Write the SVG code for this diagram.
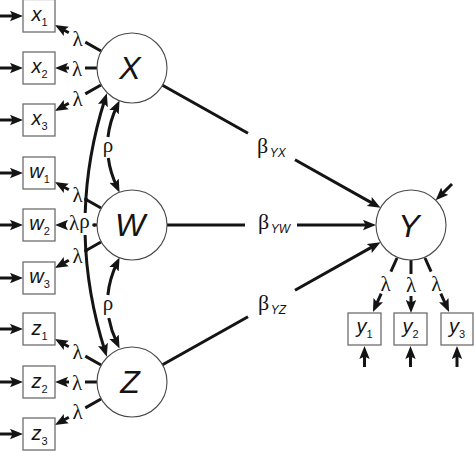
<svg xmlns="http://www.w3.org/2000/svg" width="474" height="451" viewBox="0 0 474 451">
<style>
.bg{fill:#ffffff}
.circ{fill:#ffffff;stroke:#4a4a4a;stroke-width:1.1}
.box{fill:#ffffff;stroke:#6e6e6e;stroke-width:1.3}
.ln{fill:none;stroke:#141414;stroke-width:3}
.arw{marker-end:url(#ah)}
.bi{marker-start:url(#ah);}
.dot{fill:#141414}
.lat{font-family:"Liberation Sans",Arial,sans-serif;font-style:italic;font-size:32px;fill:#141414;text-anchor:middle}
.obs{font-family:"Liberation Sans",Arial,sans-serif;font-style:italic;font-size:20px;fill:#141414;text-anchor:middle}
.sub{font-style:normal;font-size:11px}
.gk{font-family:"Liberation Serif","Times New Roman",serif;font-size:21px;fill:#141414;text-anchor:middle}
.beta{font-family:"Liberation Serif","Times New Roman",serif;font-size:22px;fill:#141414}
.bsub{font-family:"Liberation Sans",Arial,sans-serif;font-style:italic;font-size:12px}
</style>
<defs>
<marker id="ah" viewBox="0 0 13 11" markerWidth="13" markerHeight="11" refX="7" refY="5.5" orient="auto-start-reverse" markerUnits="userSpaceOnUse">
<path d="M0,0.3 L13,5.5 L0,10.7 L2.6,5.5 z" fill="#141414"/>
</marker>
</defs>
<rect class="bg" x="0" y="0" width="474" height="451"/>

<g id="connectors">
  <!-- error inputs to left indicators -->
  <line class="ln arw" x1="0" y1="16" x2="17" y2="16"/>
  <line class="ln arw" x1="0" y1="68" x2="17" y2="68"/>
  <line class="ln arw" x1="0" y1="120" x2="17" y2="120"/>
  <line class="ln arw" x1="0" y1="173" x2="17" y2="173"/>
  <line class="ln arw" x1="0" y1="225" x2="17" y2="225"/>
  <line class="ln arw" x1="0" y1="278" x2="17" y2="278"/>
  <line class="ln arw" x1="0" y1="329" x2="17" y2="329"/>
  <line class="ln arw" x1="0" y1="382" x2="17" y2="382"/>
  <line class="ln arw" x1="0" y1="434" x2="17" y2="434"/>

  <!-- X loadings -->
  <line class="ln" x1="101" y1="51" x2="85.3" y2="42.1"/>
  <line class="ln arw" x1="68.8" y1="32.8" x2="60.2" y2="28"/>
  <line class="ln" x1="97" y1="68" x2="85" y2="68"/>
  <line class="ln arw" x1="69" y1="68" x2="61" y2="68"/>
  <line class="ln" x1="101" y1="85" x2="85.3" y2="93.9"/>
  <line class="ln arw" x1="68.8" y1="103.2" x2="60.2" y2="108"/>

  <!-- W loadings -->
  <line class="ln" x1="101" y1="208" x2="86" y2="199.5"/>
  <circle class="dot" cx="86" cy="199.5" r="2"/>
  <line class="ln arw" x1="68.8" y1="189.8" x2="60.2" y2="185"/>
  <line class="ln" x1="97" y1="225" x2="94" y2="225"/>
  <circle class="dot" cx="94" cy="225" r="1.8"/>
  <line class="ln arw" x1="66" y1="225" x2="61" y2="225"/>
  <line class="ln" x1="101" y1="242" x2="86" y2="250.5"/>
  <circle class="dot" cx="86" cy="250.5" r="2"/>
  <line class="ln arw" x1="68.8" y1="260.2" x2="60.2" y2="265"/>

  <!-- Z loadings -->
  <line class="ln" x1="101" y1="365" x2="85.3" y2="356.1"/>
  <line class="ln arw" x1="68.8" y1="346.8" x2="60.2" y2="342"/>
  <line class="ln" x1="97" y1="382" x2="85" y2="382"/>
  <line class="ln arw" x1="69" y1="382" x2="61" y2="382"/>
  <line class="ln" x1="101" y1="399" x2="85.3" y2="407.9"/>
  <line class="ln arw" x1="68.8" y1="417.2" x2="60.2" y2="422"/>

  <!-- correlations -->
  <path class="ln bi" d="M117,106 Q109.7,121.5 108,137"/>
  <path class="ln arw" d="M108.3,158 Q110.2,172.5 117,187"/>
  <path class="ln bi" d="M117,263 Q109.4,279 107.9,295"/>
  <path class="ln arw" d="M108.8,318 Q111.1,330.5 117,343"/>
  <path class="ln bi" d="M105,99 Q86.9,156 85.2,213"/>
  <path class="ln arw" d="M85.1,235 Q86.6,293 105,351"/>

  <!-- structural paths -->
  <line class="ln" x1="162.5" y1="85.2" x2="248" y2="133.3"/>
  <line class="ln arw" x1="295" y1="159.8" x2="375.3" y2="204.9"/>
  <line class="ln" x1="167" y1="225" x2="245" y2="225"/>
  <line class="ln arw" x1="297" y1="225" x2="370" y2="225"/>
  <line class="ln" x1="162.5" y1="364.8" x2="248" y2="316.7"/>
  <line class="ln arw" x1="295" y1="290.2" x2="375.3" y2="245.1"/>

  <!-- Y disturbance -->
  <line class="ln arw" x1="452" y1="184" x2="439.9" y2="196.1"/>

  <!-- Y loadings -->
  <line class="ln" x1="397" y1="258" x2="390.9" y2="271.7"/>
  <line class="ln arw" x1="381.2" y1="293.6" x2="375.4" y2="306.5"/>
  <line class="ln" x1="411" y1="260" x2="411" y2="274"/>
  <line class="ln arw" x1="411" y1="296" x2="411" y2="307"/>
  <line class="ln" x1="425" y1="258" x2="431.1" y2="271.7"/>
  <line class="ln arw" x1="440.8" y1="293.6" x2="446.6" y2="306.5"/>

  <!-- error inputs to y indicators -->
  <line class="ln arw" x1="364.5" y1="367" x2="364.5" y2="352"/>
  <line class="ln arw" x1="410.5" y1="367" x2="410.5" y2="352"/>
  <line class="ln arw" x1="457" y1="367" x2="457" y2="352"/>

  <g id="edge-labels">
    <text class="gk" x="77.5" y="45.5">λ</text>
    <text class="gk" x="77" y="75.5">λ</text>
    <text class="gk" x="77.5" y="105.5">λ</text>
    <text class="gk" x="77.5" y="201.5">λ</text>
    <text class="gk" x="74" y="230">λ</text>
    <text class="gk" x="84.5" y="228">ρ</text>
    <text class="gk" x="77.5" y="262.5">λ</text>
    <text class="gk" x="77.5" y="359">λ</text>
    <text class="gk" x="77" y="389.5">λ</text>
    <text class="gk" x="77.5" y="419">λ</text>
    <text class="gk" x="108" y="151.5">ρ</text>
    <text class="gk" x="108" y="309.5">ρ</text>
    <text class="gk" x="385.6" y="290.5">λ</text>
    <text class="gk" x="411" y="291.5">λ</text>
    <text class="gk" x="436.4" y="290.5">λ</text>
    <text class="beta" x="257" y="152.5">β<tspan class="bsub" dx="1.5" dy="4">YX</tspan></text>
    <text class="beta" x="258" y="228.5">β<tspan class="bsub" dx="1.5" dy="4">YW</tspan></text>
    <text class="beta" x="258" y="309.5">β<tspan class="bsub" dx="1.5" dy="4">YZ</tspan></text>
  </g>
</g>

<g id="X"><circle class="circ" cx="132" cy="68" r="35"/><text class="lat" x="130" y="79">X</text></g>
<g id="W"><circle class="circ" cx="132" cy="225" r="35"/><text class="lat" x="130" y="236">W</text></g>
<g id="Z"><circle class="circ" cx="132" cy="382" r="35"/><text class="lat" x="130" y="393">Z</text></g>
<g id="Y"><circle class="circ" cx="411" cy="225" r="35"/><text class="lat" x="409" y="237">Y</text></g>

<g id="x1"><rect class="box" x="23" y="-0.5" width="32" height="32.5"/><text class="obs" x="39.5" y="21">x<tspan class="sub" dy="5">1</tspan></text></g>
<g id="x2"><rect class="box" x="23" y="52" width="32" height="32"/><text class="obs" x="39.5" y="73">x<tspan class="sub" dy="5">2</tspan></text></g>
<g id="x3"><rect class="box" x="23" y="104" width="32" height="32"/><text class="obs" x="39.5" y="125">x<tspan class="sub" dy="5">3</tspan></text></g>
<g id="w1"><rect class="box" x="23" y="157" width="32" height="32"/><text class="obs" x="39.5" y="178">w<tspan class="sub" dy="5">1</tspan></text></g>
<g id="w2"><rect class="box" x="23" y="209" width="32" height="32"/><text class="obs" x="39.5" y="230">w<tspan class="sub" dy="5">2</tspan></text></g>
<g id="w3"><rect class="box" x="23" y="262" width="32" height="32"/><text class="obs" x="39.5" y="283">w<tspan class="sub" dy="5">3</tspan></text></g>
<g id="z1"><rect class="box" x="23" y="313" width="32" height="32"/><text class="obs" x="39.5" y="335">z<tspan class="sub" dy="5">1</tspan></text></g>
<g id="z2"><rect class="box" x="23" y="366" width="32" height="32"/><text class="obs" x="39.5" y="388">z<tspan class="sub" dy="5">2</tspan></text></g>
<g id="z3"><rect class="box" x="23" y="418" width="32" height="32"/><text class="obs" x="39.5" y="440">z<tspan class="sub" dy="5">3</tspan></text></g>
<g id="y1"><rect class="box" x="348" y="313" width="33" height="32"/><text class="obs" x="364.5" y="333">y<tspan class="sub" dy="5">1</tspan></text></g>
<g id="y2"><rect class="box" x="394" y="313" width="33" height="32"/><text class="obs" x="410.5" y="333">y<tspan class="sub" dy="5">2</tspan></text></g>
<g id="y3"><rect class="box" x="441" y="313" width="32" height="32"/><text class="obs" x="457" y="333">y<tspan class="sub" dy="5">3</tspan></text></g>
</svg>
